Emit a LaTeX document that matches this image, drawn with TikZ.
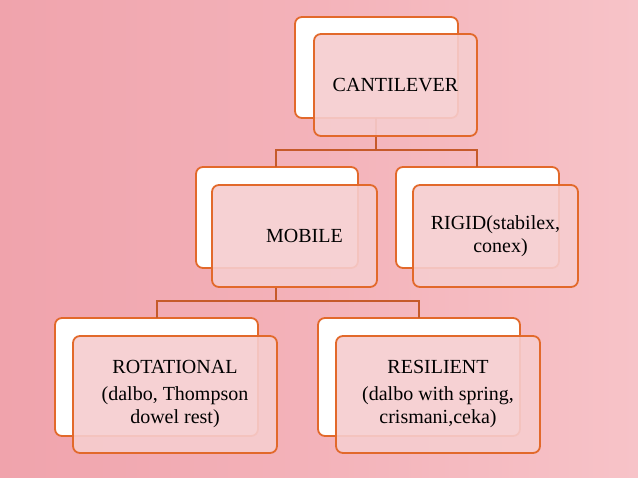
\documentclass[tikz,border=0pt]{standalone}
\usepackage{fontspec}
\setmainfont{Liberation Serif}
\begin{document}
\begin{tikzpicture}[x=1pt,y=-1pt,
  backbox/.style={draw=boxorange,line width=1.8pt,fill=white,rounded corners=7pt},
  frontbox/.style={draw=boxorange,line width=1.8pt,fill=frontpink,fill opacity=0.9,rounded corners=7pt,text opacity=1,align=center,font=\fontsize{20}{23}\selectfont},
  conn/.style={draw=lineorange,line width=1.8pt}]
\definecolor{boxorange}{HTML}{E2692B}
\definecolor{lineorange}{HTML}{C65A2A}
\definecolor{frontpink}{HTML}{F6CDCF}
\definecolor{bgA}{HTML}{F0A3AC}
\definecolor{bgB}{HTML}{F7C3C8}
\useasboundingbox (0,0) rectangle (638,478);
\shade[left color=bgA,right color=bgB] (0,0) rectangle (638,478);
% back boxes
\draw[backbox] (295,17) rectangle (458,118);
\draw[backbox] (196,167) rectangle (358,268);
\draw[backbox] (396,167) rectangle (559,268);
\draw[backbox] (55,318) rectangle (258,436);
\draw[backbox] (318,318) rectangle (520,436);
% connectors
\coordinate (c1) at (376,118);
\coordinate (j1) at (376,150);
\coordinate (m1) at (276,167);
\coordinate (r1) at (477,167);
\draw[conn] (c1) -- (j1) (m1) |- (j1) -| (r1);
\coordinate (c2) at (276,287);
\coordinate (j2) at (276,301);
\coordinate (a2) at (157,318);
\coordinate (b2) at (419,318);
\draw[conn] (c2) -- (j2) (a2) |- (j2) -| (b2);
% front boxes
\node[frontbox,minimum width=163pt,minimum height=102pt] (cant) at (395.5,85) {CANTILEVER};
\node[frontbox,minimum width=165pt,minimum height=102pt] (mob) at (294.5,236) {\hspace*{20pt}MOBILE};
\node[frontbox,minimum width=165pt,minimum height=102pt] (rig) at (495.5,236) {RIGID(stabilex,\\\hspace*{10pt}conex)};
\node[frontbox,minimum width=204pt,minimum height=117pt] (rot) at (175,394.5) {ROTATIONAL\\[4pt](dalbo, Thompson\\dowel rest)};
\node[frontbox,minimum width=204pt,minimum height=117pt] (res) at (438,394.5) {RESILIENT\\[4pt](dalbo with spring,\\crismani,ceka)};
\end{tikzpicture}
\end{document}
